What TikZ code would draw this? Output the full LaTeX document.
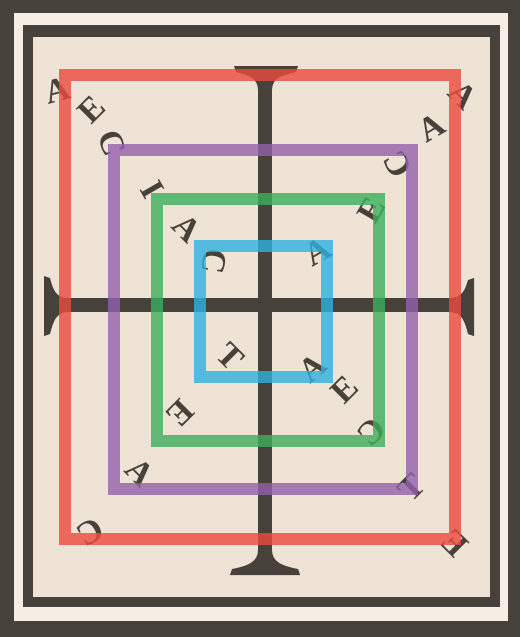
\documentclass[tikz,border=0pt]{standalone}
\usepackage{fontspec}
\setmainfont{Liberation Serif}
\definecolor{paper}{HTML}{EFE3D5}
\definecolor{gap}{HTML}{F6EEE5}
\definecolor{ink}{HTML}{46413A}
\definecolor{sqred}{HTML}{EC4A3E}
\definecolor{sqpurple}{HTML}{9460AE}
\definecolor{sqgreen}{HTML}{3DAE5E}
\definecolor{sqblue}{HTML}{2EB2E2}
\tikzset{
  letter/.style={text=ink, font=\fontsize{34}{34}\selectfont\bfseries, inner sep=0pt},
  sq/.style={line width=12pt, opacity=0.8, line join=miter},
  inkfill/.style={fill=ink, draw=none},
}
\begin{document}
\begin{tikzpicture}[x=1pt,y=-1pt]
\useasboundingbox (0,0) rectangle (520,637);
% frame
\fill[ink] (0,0) rectangle (520,637);
\fill[gap] (14,13) rectangle (508,621);
\fill[ink] (23,25) rectangle (500,607);
\fill[paper] (33,37) rectangle (490,597);
% cross
\fill[inkfill] (258,80) rectangle (272,555);
\fill[inkfill] (234,66) -- (298,66) -- (296,72) .. controls (282,75) and (272,78) .. (272,90) -- (258,90) .. controls (258,78) and (248,75) .. (236,72) -- cycle;
\fill[inkfill] (230,575) -- (300,575) -- (298,569) .. controls (282,566) and (272,562) .. (272,550) -- (258,550) .. controls (258,562) and (248,566) .. (232,569) -- cycle;
\fill[inkfill] (60,298) rectangle (462,312);
\fill[inkfill] (44,276) -- (44,336) -- (50,334) .. controls (53,322) and (56,312) .. (68,312) -- (68,298) .. controls (56,298) and (53,290) .. (50,278) -- cycle;
\fill[inkfill] (474,278) -- (474,336) -- (468,334) .. controls (465,322) and (462,312) .. (450,312) -- (450,298) .. controls (462,298) and (465,290) .. (468,280) -- cycle;
% letters, top-left diagonal
\node[letter, rotate=15]  (tl1) at (57,90)  {A};
\node[letter, rotate=45]  (tl2) at (92,110) {E};
\node[letter, rotate=-70] (tl3) at (112,143) {C};
\node[letter, rotate=-60] (tl4) at (152,190) {I};
\node[letter, rotate=-45] (tl5) at (187,228) {A};
\node[letter, rotate=-100] (tl6) at (214,262) {C};
% top-right diagonal
\node[letter, rotate=-45] (tr1) at (463,95)  {A};
\node[letter, rotate=30]  (tr2) at (432,128) {A};
\node[letter, rotate=120] (tr3) at (398,164) {C};
\node[letter, rotate=60]  (tr4) at (372,210) {E};
\node[letter, rotate=30]  (tr5) at (318,252) {A};
% bottom-left diagonal
\node[letter, rotate=-150] (bl1) at (90,532) {C};
\node[letter, rotate=-45]  (bl2) at (140,472) {A};
\node[letter, rotate=-135] (bl3) at (180,413) {E};
\node[letter, rotate=-45]  (bl4) at (230,357) {T};
% bottom-right diagonal
\node[letter, rotate=40]   (br1) at (313,368) {A};
\node[letter, rotate=45]   (br2) at (345,390) {E};
\node[letter, rotate=-135] (br3) at (372,432) {C};
\node[letter, rotate=45]   (br4) at (412,488) {T};
\node[letter, rotate=135]  (br5) at (455,543) {E};
% coloured squares
\draw[sq, sqred]    (64.5,74.5) rectangle (455,539);
\draw[sq, sqpurple] (113.5,149.5) rectangle (411.5,489);
\draw[sq, sqgreen]  (157,198.5) rectangle (378.5,441);
\draw[sq, sqblue]   (200,246) rectangle (327,376.5);
\end{tikzpicture}
\end{document}
